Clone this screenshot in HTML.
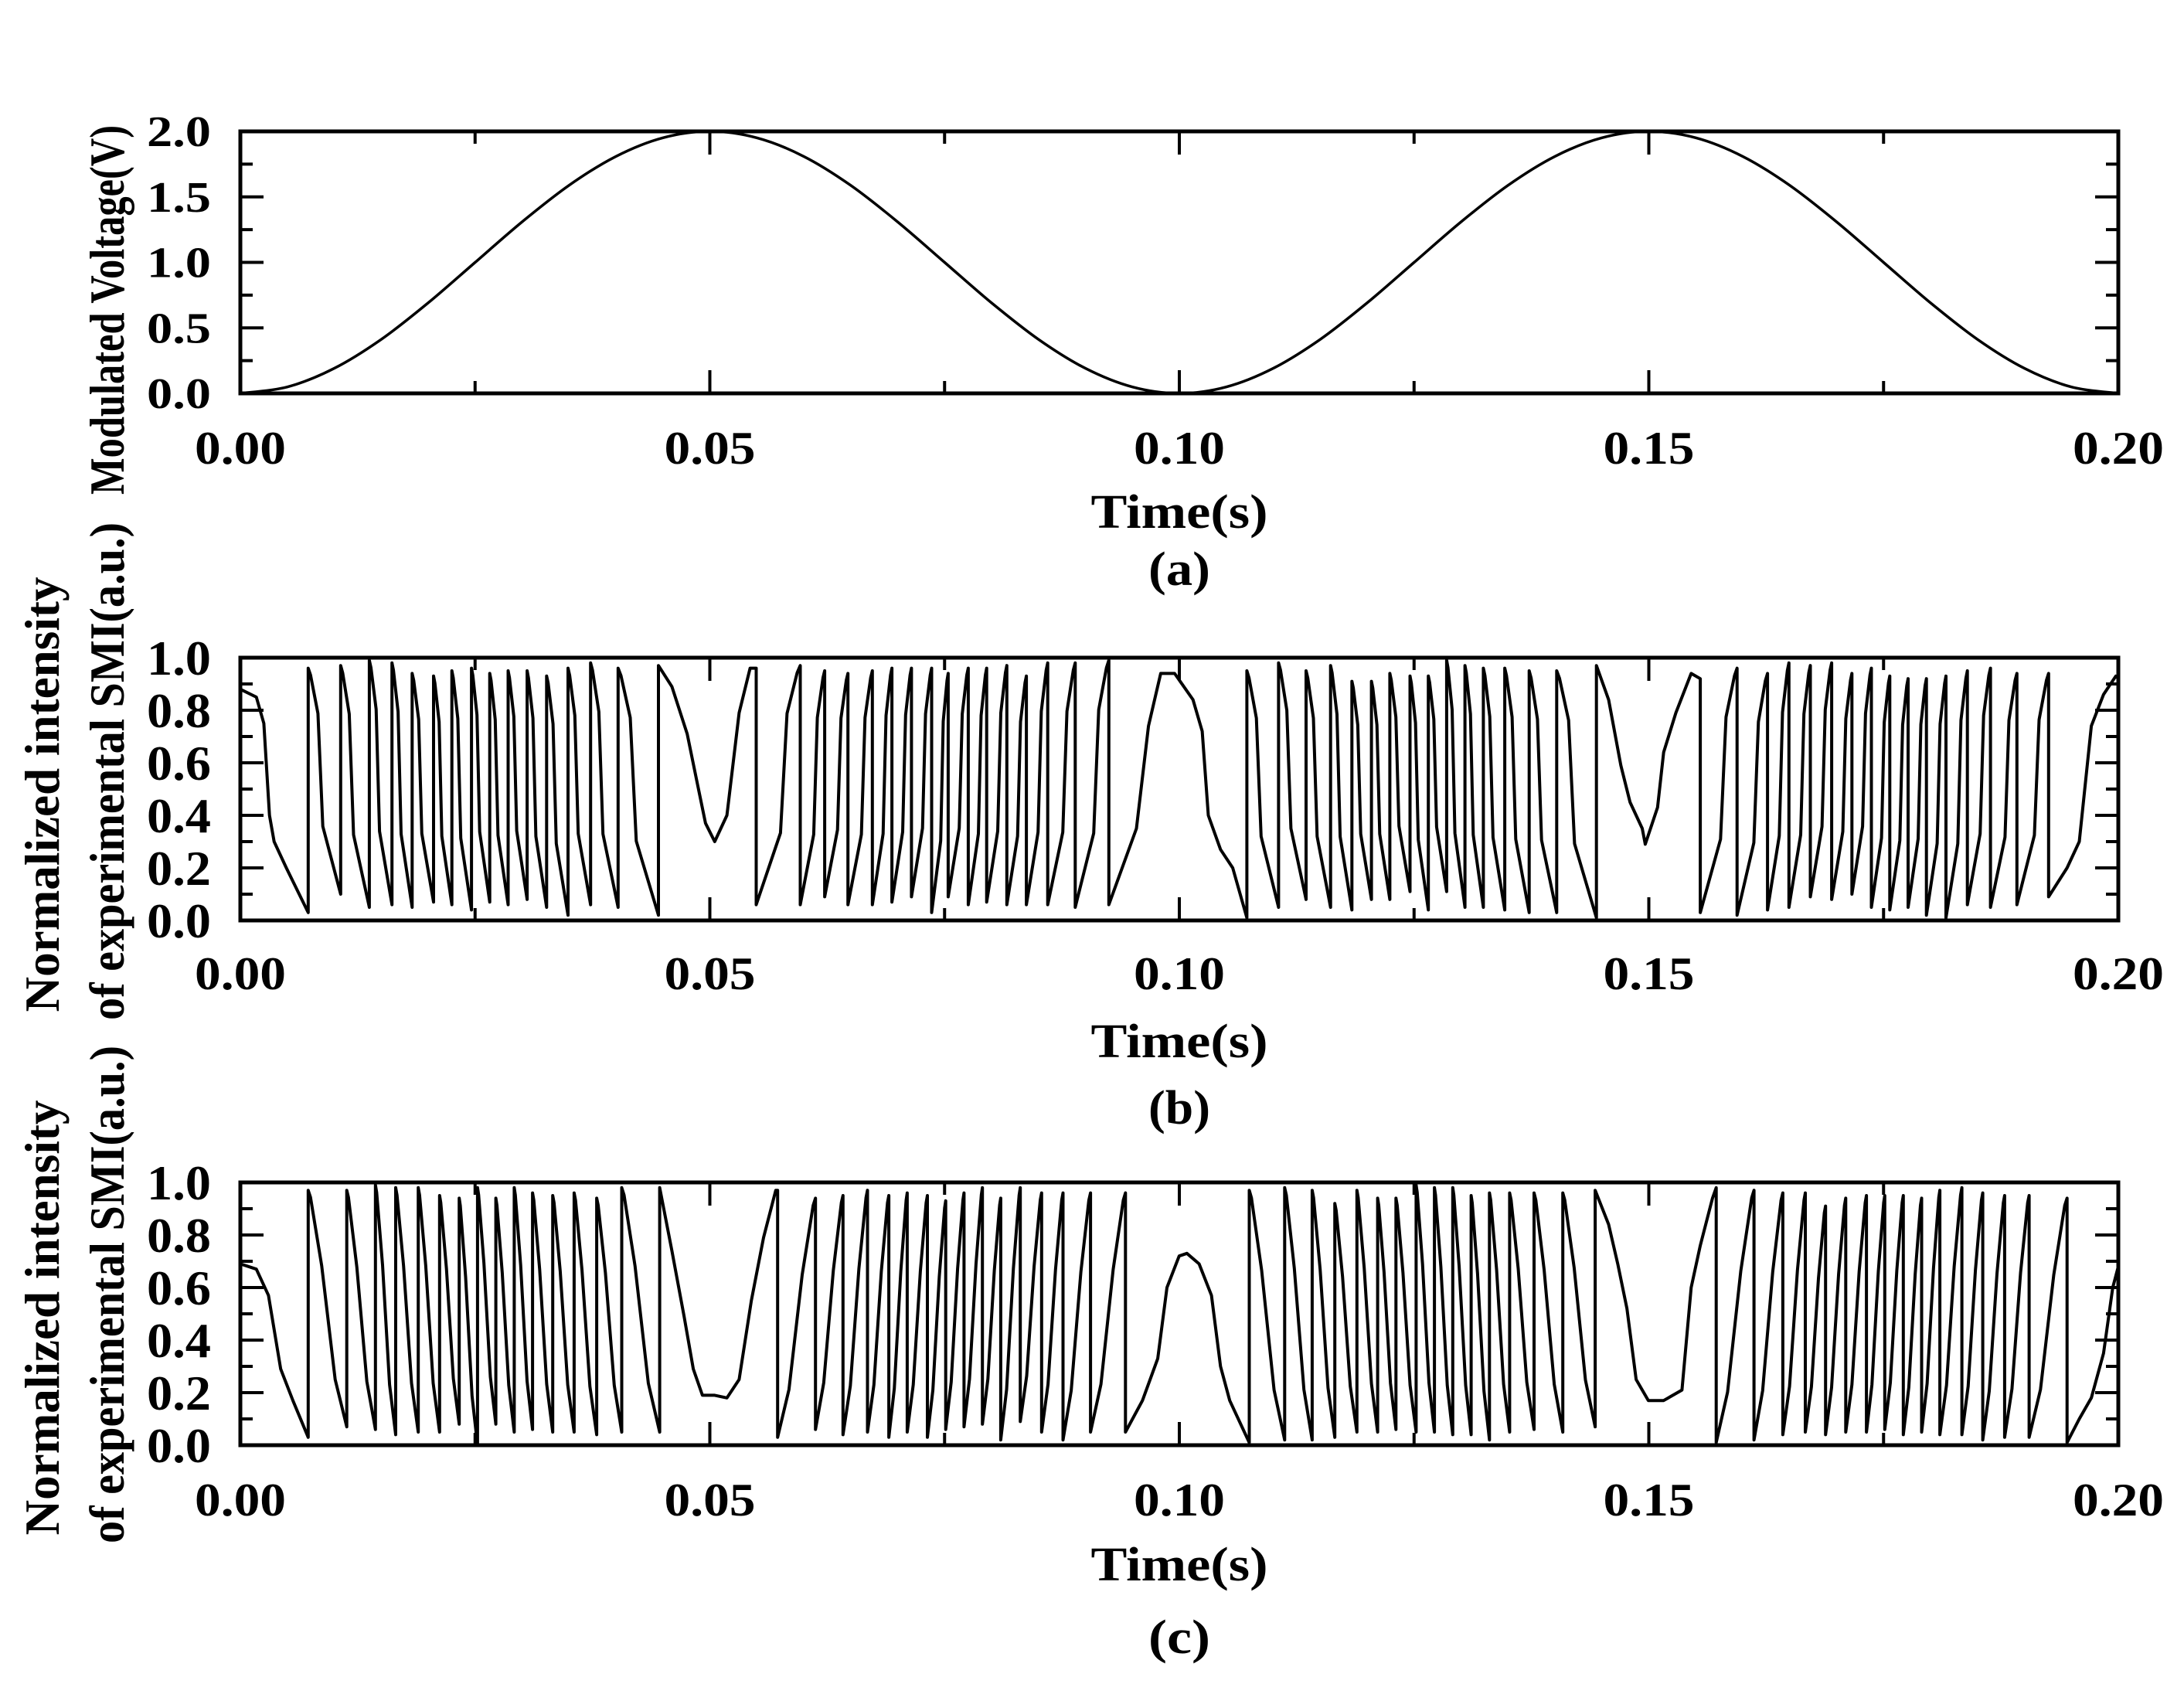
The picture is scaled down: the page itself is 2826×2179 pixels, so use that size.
<!DOCTYPE html>
<html><head><meta charset="utf-8"><style>
html,body{margin:0;padding:0;background:#fff}
svg{display:block}
text{font-family:"Liberation Serif",serif;font-weight:bold;fill:#000}
</style></head><body>
<svg id="fig" xmlns="http://www.w3.org/2000/svg" width="2826" height="2179" viewBox="0 0 2826 2179"></svg>
<script>
// ---------- data ----------
const xTicks = [0, 0.05, 0.10, 0.15, 0.20];
const xTickLabels = ["0.00", "0.05", "0.10", "0.15", "0.20"];
const aYTicks = [0, 0.5, 1.0, 1.5, 2.0];
const aYTickLabels = ["0.0", "0.5", "1.0", "1.5", "2.0"];
const smiYTicks = [0, 0.2, 0.4, 0.6, 0.8, 1.0];
const smiYTickLabels = ["0.0", "0.2", "0.4", "0.6", "0.8", "1.0"];

// (a) modulated voltage, sampled every 0.005 s
const aTimes = [0,0.005,0.01,0.015,0.02,0.025,0.03,0.035,0.04,0.045,0.05,0.055,0.06,0.065,0.07,0.075,0.08,0.085,0.09,0.095,0.1,0.105,0.11,0.115,0.12,0.125,0.13,0.135,0.14,0.145,0.15,0.155,0.16,0.165,0.17,0.175,0.18,0.185,0.19,0.195,0.2];
const aVolts = [0,0.049,0.191,0.412,0.691,1.0,1.309,1.588,1.809,1.951,2.0,1.951,1.809,1.588,1.309,1.0,0.691,0.412,0.191,0.049,0,0.049,0.191,0.412,0.691,1.0,1.309,1.588,1.809,1.951,2.0,1.951,1.809,1.588,1.309,1.0,0.691,0.412,0.191,0.049,0];

// (b) experimental SMI
const bStart = [[0,0.88],[0.0017,0.85],[0.0025,0.75],[0.0031,0.4],[0.0036,0.3],[0.0049,0.2]];
const bUp1T = [0.00723,0.01068,0.01374,0.01615,0.0183,0.02058,0.02253,0.02462,0.02656,0.02852,0.03054,0.03262,0.0349,0.0373,0.04023,0.04453];
const bUp1H = [0.96,0.97,0.99,0.98,0.94,0.93,0.95,0.96,0.94,0.95,0.95,0.93,0.96,0.98,0.96,0.97];
const bUp1L = [0.03,0.1,0.05,0.06,0.05,0.07,0.06,0.04,0.07,0.06,0.08,0.05,0.02,0.06,0.05,0.02];
const bValley1 = [[0.04596,0.89],[0.04759,0.71],[0.04856,0.54],[0.04954,0.37],[0.05052,0.3],[0.05182,0.4],[0.05312,0.79],[0.05429,0.96],[0.05494,0.96],[0.05494,0.06]];
const bDown2T = [0.05963,0.06223,0.06471,0.06731,0.06939,0.07147,0.07362,0.07538,0.07752,0.07948,0.08163,0.08371,0.08598,0.08891,0.09249];
const bDown2H = [0.97,0.95,0.94,0.95,0.96,0.96,0.96,0.94,0.96,0.96,0.97,0.93,0.98,0.98,0.99];
const bDown2L = [0.06,0.09,0.06,0.06,0.07,0.09,0.03,0.09,0.06,0.07,0.06,0.06,0.06,0.05,0.06];
const bHump = [[0.09543,0.35],[0.09672,0.74],[0.09802,0.94],[0.0995,0.94],[0.10146,0.84],[0.10244,0.72],[0.10309,0.40],[0.10439,0.27],[0.10569,0.2]];
const bUp3T = [0.10719,0.11057,0.1135,0.11611,0.11838,0.12046,0.12242,0.12457,0.12652,0.12847,0.13042,0.13238,0.13466,0.13726,0.14019,0.14442];
const bUp3H = [0.95,0.98,0.95,0.97,0.91,0.91,0.94,0.93,0.93,0.99,0.97,0.96,0.96,0.95,0.95,0.97];
const bUp3L = [0.01,0.05,0.08,0.05,0.04,0.08,0.08,0.11,0.04,0.11,0.05,0.05,0.04,0.03,0.03,0.01];
const bValley2 = [[0.14572,0.84],[0.14702,0.59],[0.148,0.45],[0.1493,0.35],[0.14962,0.29],[0.15093,0.43],[0.15158,0.64],[0.15288,0.79],[0.15451,0.94],[0.15548,0.92],[0.15548,0.03]];
const bDown4T = [0.1594,0.16264,0.16492,0.1672,0.16947,0.17163,0.1737,0.17566,0.17761,0.17956,0.18165,0.18393,0.18639,0.1892,0.19258];
const bDown4H = [0.96,0.94,0.98,0.97,0.98,0.94,0.96,0.93,0.92,0.92,0.93,0.95,0.96,0.94,0.94];
const bDown4L = [0.02,0.04,0.05,0.09,0.08,0.1,0.05,0.04,0.05,0.02,0.01,0.06,0.05,0.06,0.09];
const bEnd = [[0.19454,0.2],[0.19584,0.3],[0.19713,0.74],[0.19843,0.86],[0.19974,0.93],[0.2,0.92]];

// (c) experimental SMI
const cStart = [[0,0.69],[0.0017,0.67],[0.003,0.57],[0.0043,0.29],[0.0056,0.17]];
const cUp1T = [0.00723,0.01133,0.01439,0.01654,0.01895,0.02122,0.02331,0.02526,0.02721,0.02917,0.03112,0.03327,0.03555,0.03795,0.04062,0.04466];
const cUp1H = [0.97,0.97,0.99,0.98,0.98,0.95,0.94,0.98,0.94,0.98,0.96,0.95,0.96,0.94,0.98,0.98];
const cUp1L = [0.03,0.07,0.06,0.04,0.05,0.05,0.08,0.0,0.08,0.05,0.06,0.05,0.05,0.04,0.05,0.05];
const cValley1 = [[0.04596,0.74],[0.04726,0.49],[0.04824,0.29],[0.04921,0.19],[0.05052,0.19],[0.05182,0.18],[0.05312,0.25],[0.05442,0.55],[0.05572,0.79],[0.05702,0.97],[0.05722,0.97],[0.05722,0.03]];
const cDown2T = [0.06125,0.06418,0.06679,0.06906,0.07102,0.07317,0.07512,0.07707,0.07903,0.08098,0.08306,0.08533,0.08761,0.09054,0.09426];
const cDown2H = [0.94,0.95,0.97,0.95,0.96,0.95,0.93,0.96,0.98,0.94,0.98,0.96,0.96,0.96,0.96];
const cDown2L = [0.06,0.04,0.05,0.03,0.05,0.03,0.06,0.07,0.08,0.02,0.09,0.05,0.02,0.05,0.05];
const cHump = [[0.09607,0.17],[0.0977,0.33],[0.09868,0.6],[0.09998,0.72],[0.10081,0.73],[0.10211,0.69],[0.10342,0.57],[0.10439,0.3],[0.10537,0.17]];
const cUp3T = [0.10745,0.11122,0.11415,0.11656,0.11891,0.12112,0.12307,0.12522,0.12717,0.12912,0.13108,0.13303,0.13518,0.13778,0.14084,0.14429];
const cUp3H = [0.97,0.98,0.97,0.92,0.97,0.94,0.94,0.99,0.98,0.98,0.95,0.96,0.96,0.96,0.96,0.97];
const cUp3L = [0.01,0.02,0.02,0.03,0.05,0.05,0.06,0.05,0.05,0.04,0.04,0.02,0.05,0.06,0.05,0.07];
const cValley2 = [[0.14572,0.84],[0.14669,0.69],[0.14767,0.52],[0.14865,0.25],[0.14995,0.17],[0.15158,0.17],[0.15353,0.21],[0.15451,0.6],[0.15548,0.76],[0.15678,0.94],[0.15718,0.98],[0.15718,0.01]];
const cDown4T = [0.1612,0.16427,0.16667,0.16882,0.17097,0.17318,0.17513,0.1771,0.17905,0.181,0.18334,0.18556,0.18789,0.1905,0.19454];
const cDown4H = [0.97,0.96,0.96,0.91,0.94,0.95,0.95,0.95,0.94,0.97,0.98,0.96,0.95,0.95,0.94];
const cDown4L = [0.02,0.04,0.05,0.04,0.05,0.05,0.06,0.04,0.05,0.04,0.04,0.02,0.03,0.03,0.01];
const cEnd = [[0.19584,0.1],[0.19713,0.18],[0.19843,0.35],[0.19941,0.6],[0.2,0.68]];

// ---------- drawing ----------
const NS = "http://www.w3.org/2000/svg";
const svg = document.getElementById("fig");
const X0 = 311, X1 = 2741;
const panels = {
  a: {top:170, bottom:509, ymax:2},
  b: {top:851, bottom:1191, ymax:1},
  c: {top:1530, bottom:1870, ymax:1}
};
function sx(t){ return X0 + (t/0.2)*(X1-X0); }
function syFor(p){ return v => p.bottom - (v/p.ymax)*(p.bottom-p.top); }
function el(tag, attrs, parent){
  const e = document.createElementNS(NS, tag);
  for (const k in attrs) e.setAttribute(k, attrs[k]);
  (parent||svg).appendChild(e);
  return e;
}
function txt(str, x, y, size, anchor, len, parent, rot){
  const t = el("text", {x:x, y:y, "font-size":size, "text-anchor":anchor||"middle"}, parent);
  if (len){ t.setAttribute("textLength", len); t.setAttribute("lengthAdjust", "spacingAndGlyphs"); }
  if (rot) t.setAttribute("transform", "rotate(-90 " + x + " " + y + ")");
  t.textContent = str;
  return t;
}

function drawAxes(key, yTicks, yLabels, yMinorStep, yLabelSize, baselines, letter, titleLines){
  const p = panels[key];
  const sy = syFor(p);
  const g = el("g", {});
  
  
  const tg = el("g", {stroke:"#000", "stroke-width":4}, g);
  
  
  for (let i = 1; i < 8; i++){
    const x = sx(i*0.025), L = (i%2===0) ? 30 : 16;
    el("line", {x1:x, y1:p.bottom, x2:x, y2:p.bottom-L}, tg);
    el("line", {x1:x, y1:p.top, x2:x, y2:p.top+L}, tg);
  }
  const nMinor = Math.round(p.ymax / yMinorStep);
  for (let j = 1; j < nMinor; j++){
    const v = j*yMinorStep, y = sy(v);
    const major = yTicks.some(tv => Math.abs(tv - v) < 1e-6);
    const L = major ? 30 : 16;
    el("line", {x1:X0, y1:y, x2:X0+L, y2:y}, tg);
    el("line", {x1:X1, y1:y, x2:X1-L, y2:y}, tg);
  }
  const fr = el("rect", {x:X0, y:p.top, width:X1-X0, height:p.bottom-p.top, fill:"none", stroke:"#000", "stroke-width":5}, g);
  
  
  xTicks.forEach((t, i) => {
    const lt = txt(xTickLabels[i], sx(t), baselines[0], 60, "middle", 118, g);
    
    
  });
  yTicks.forEach((v, i) => {
    const lt = txt(yLabels[i], 273, sy(v) + yLabelSize*0.34, yLabelSize, "end", 83, g);
    
    
  });
  const xt = txt("Time(s)", (X0+X1)/2, baselines[1], 62, "middle", 229, g);
  
  
  const pl = txt(letter, (X0+X1)/2, baselines[2], 62, "middle", 80, g);
  
  
  titleLines.forEach(tl => {
    const yt = txt(tl.s, tl.x, tl.cy, tl.size, "middle", tl.len, g, true);
    
    
  });
  return {g, sy};
}

// panel a
const A = drawAxes("a", aYTicks, aYTickLabels, 0.25, 56, [600, 683, 757], "(a)",
  [{s:"Modulated Voltage(V)", x:160, cy:401, size:64, len:478}]);
(function(){
  const pts = aTimes.map((t,i) => [sx(t), A.sy(aVolts[i])]);
  let d = "M" + pts[0][0] + " " + pts[0][1];
  for (let i = 0; i < pts.length-1; i++){
    const p0 = pts[Math.max(0,i-1)], p1 = pts[i], p2 = pts[i+1], p3 = pts[Math.min(pts.length-1,i+2)];
    const c1x = p1[0] + (p2[0]-p0[0])/6, c1y = p1[1] + (p2[1]-p0[1])/6;
    const c2x = p2[0] - (p3[0]-p1[0])/6, c2y = p2[1] - (p3[1]-p1[1])/6;
    d += " C" + c1x.toFixed(1) + " " + c1y.toFixed(1) + " " + c2x.toFixed(1) + " " + c2y.toFixed(1) + " " + p2[0].toFixed(1) + " " + p2[1].toFixed(1);
  }
  const line = el("path", {d:d, fill:"none", stroke:"#000", "stroke-width":3.5}, A.g);
  
  
})();

// SMI builder; knees are [timeFraction, valueFraction] shape parameters
function addUp(pts, T, H, L, knees){
  for (let i = 0; i < T.length; i++){
    pts.push([T[i], L[i]]); pts.push([T[i], H[i]]);
    if (i < T.length-1){
      const nT = T[i+1], nL = L[i+1];
      knees.forEach(k => pts.push([T[i] + k[0]*(nT-T[i]), nL + k[1]*(H[i]-nL)]));
    }
  }
}
function addDown(pts, D, H, L, knees){
  let prev = pts[pts.length-1];
  for (let i = 0; i < D.length; i++){
    knees.forEach(k => pts.push([prev[0] + k[0]*(D[i]-prev[0]), prev[1] + k[1]*(H[i]-prev[1])]));
    pts.push([D[i], H[i]]); pts.push([D[i], L[i]]);
    prev = [D[i], L[i]];
  }
}
function drawSMI(P, name, start, u1, v1, d2, hump, u3, v2, d4, end, ku, kd){
  const pts = start.slice();
  addUp(pts, u1[0], u1[1], u1[2], ku);
  pts.push(...v1);
  addDown(pts, d2[0], d2[1], d2[2], kd);
  pts.push(...hump);
  addUp(pts, u3[0], u3[1], u3[2], ku);
  pts.push(...v2);
  addDown(pts, d4[0], d4[1], d4[2], kd);
  pts.push(...end);
  const d = pts.map((p,i) => (i?"L":"M") + sx(p[0]).toFixed(1) + " " + P.sy(p[1]).toFixed(1)).join(" ");
  const line = el("path", {d:d, fill:"none", stroke:"#000", "stroke-width":4, "stroke-linejoin":"round"}, P.g);
  
  
}

const B = drawAxes("b", smiYTicks, smiYTickLabels, 0.1, 64, [1280, 1368, 1454], "(b)",
  [{s:"Normalized intensity", x:76, cy:1028, size:64, len:563},
   {s:"of experimental SMI(a.u.)", x:160, cy:998, size:64, len:644}]);
drawSMI(B, "smi-signal-b", bStart, [bUp1T,bUp1H,bUp1L], bValley1, [bDown2T,bDown2H,bDown2L], bHump,
  [bUp3T,bUp3H,bUp3L], bValley2, [bDown4T,bDown4H,bDown4L], bEnd,
  [[0.07,0.97],[0.3,0.8],[0.45,0.3]], [[0.55,0.3],[0.7,0.8],[0.93,0.97]]);

const C = drawAxes("c", smiYTicks, smiYTickLabels, 0.1, 64, [1961, 2045, 2139], "(c)",
  [{s:"Normalized intensity", x:76, cy:1705, size:64, len:563},
   {s:"of experimental SMI(a.u.)", x:160, cy:1675, size:64, len:644}]);
drawSMI(C, "smi-signal-c", cStart, [cUp1T,cUp1H,cUp1L], cValley1, [cDown2T,cDown2H,cDown2L], cHump,
  [cUp3T,cUp3H,cUp3L], cValley2, [cDown4T,cDown4H,cDown4L], cEnd,
  [[0.06,0.97],[0.35,0.68],[0.7,0.2]], [[0.3,0.2],[0.65,0.68],[0.94,0.97]]);
</script>
</body></html>
